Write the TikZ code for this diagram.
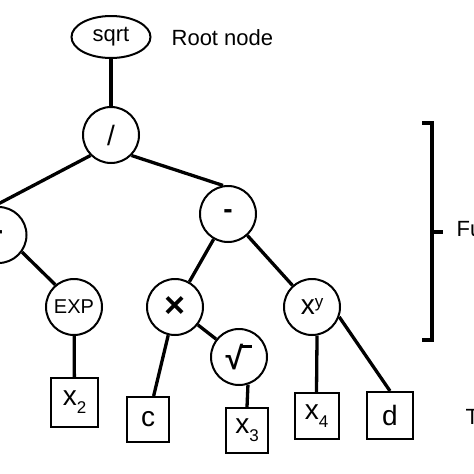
\documentclass[tikz,border=0pt]{standalone}
\usepackage{fontspec}
\setmainfont{Liberation Sans}
\usetikzlibrary{shapes.geometric}
\tikzstyle{croot}=[ellipse, draw, line width=2pt, minimum width=79pt, minimum height=42pt, inner sep=0pt, font=\fontsize{22}{24}\selectfont]
\tikzstyle{cfun}=[circle, draw, line width=2pt, minimum size=56pt, inner sep=0pt, font=\fontsize{28}{30}\selectfont]
\tikzstyle{cterm}=[rectangle, draw, line width=2pt, minimum width=44pt, minimum height=46pt, inner sep=0pt, font=\fontsize{28}{30}\selectfont]
\tikzstyle{clabel}=[anchor=west, inner sep=0pt, font=\fontsize{22}{24}\selectfont]
\newcommand{\tsub}[1]{\raisebox{-8pt}{\fontsize{17}{17}\selectfont #1}}
\newcommand{\tsup}[1]{\raisebox{7pt}{\fontsize{17}{17}\selectfont #1}}
\newcommand{\troot}{{\fontsize{32}{34}\selectfont\bfseries √}\kern-2pt\rule[21.2pt]{11pt}{2.8pt}}

\begin{document}
\begin{tikzpicture}[x=1pt, y=-1pt, line width=3.3pt]
\useasboundingbox (0,0) rectangle (474,474);
\clip (0,0) rectangle (474,474);

\node[croot] (n1) at (111,37) {sqrt};
\node[clabel] (l1) at (170,38) {Root node};

\node[cfun] (n2) at (111,135) {/};
\node[cfun] (n3) at (-1.5,235) {\textbf{-}};
\node[cfun] (n4) at (228,214) {\textbf{-}};
\node[cfun, font=\fontsize{20}{22}\selectfont] (n5) at (74,307) {EXP};
\node[cfun, font=\fontsize{36}{38}\selectfont] (n6) at (175,307) {\textbf{×}};
\node[cfun] (n7) at (239,357) {\troot};
\node[cfun] (n8) at (312,307) {x\tsup{y}};

\node[cterm, minimum width=47pt, minimum height=49pt] (t1) at (74.5,402.5) {x\tsub{2}};
\node[cterm, minimum width=42pt, minimum height=45pt] (t2) at (148,419.5) {c};
\node[cterm, minimum width=42pt, minimum height=45pt] (t3) at (247,430.5) {x\tsub{3}};
\node[cterm] (t4) at (316.5,416) {x\tsub{4}};
\node[cterm, minimum width=46pt, minimum height=47pt] (t5) at (390,415.5) {d};

\node[clabel] (l2) at (455,229) {Fu};
\node[clabel] (l3) at (464,417) {T};

\draw (n1) -- (n2);
\draw (n2.225) -- (n3.100);
\draw (n2.315) -- (n4.100);
\draw (n3.-36) -- (n5.130);
\draw (n5) -- (t1);
\draw (n4) -- (n6);
\draw (n4) -- (n8);
\draw (n6) -- (t2);
\draw (n6) -- (n7);
\draw (n7.-72) -- (t3.north);
\draw (n8.-80) -- (t4.north);
\draw (n8.-20) -- (t5.north);

% brace
\draw (422,123) -- (432,123) -- (432,340) -- (422,340);
\draw (432,232) -- (443,232);

\end{tikzpicture}
\end{document}
